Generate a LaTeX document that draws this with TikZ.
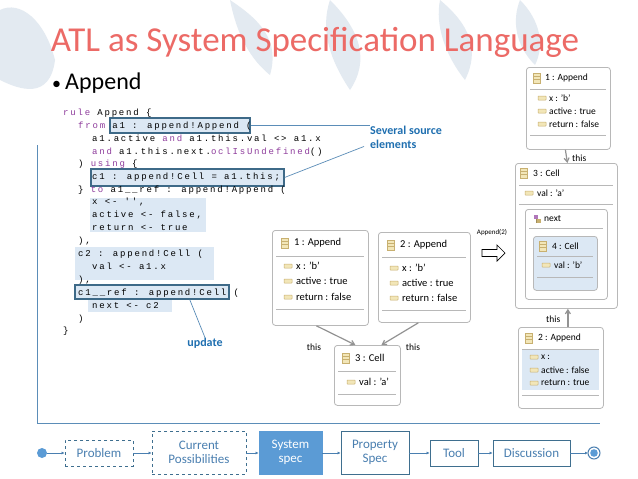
\documentclass[tikz,border=0pt]{standalone}
\usepackage{fontspec}
\setmainfont{Carlito}
\newfontfamily\codefont[LetterSpace=20]{Liberation Mono}
\usetikzlibrary{arrows.meta}
\definecolor{titlered}{HTML}{EC6A66}
\definecolor{hl}{HTML}{DCE8F4}
\definecolor{hlbox}{HTML}{3E6A88}
\definecolor{callout}{HTML}{1F6FB0}
\definecolor{kw}{HTML}{8E3C9C}
\definecolor{frameblue}{HTML}{5B8DB8}
\definecolor{navtext}{HTML}{4A7FB0}
\definecolor{navborder}{HTML}{3F6F8F}
\definecolor{navfill}{HTML}{5B9BD5}
\definecolor{objgray}{HTML}{B8B8B8}
\definecolor{icontan}{HTML}{C8B070}
\definecolor{icontanf}{HTML}{F2E6B8}
\definecolor{deco}{HTML}{E3EAF1}
\newcommand\kwd[1]{\textcolor{kw}{#1}}
\newcommand\clsicon[2]{\draw[icontan,fill=icontanf,line width=0.6pt] (#1-3.5,#2-5) rectangle (#1+3.5,#2+5); \draw[icontan,line width=0.5pt] (#1-3.5,#2-1.7) -- (#1+3.5,#2-1.7) (#1-3.5,#2+1.7) -- (#1+3.5,#2+1.7);}
\newcommand\atticon[2]{\draw[icontan,fill=icontanf,line width=0.5pt,rounded corners=0.5pt] (#1-4,#2-2) rectangle (#1+4,#2+2);}
\begin{document}
\begin{tikzpicture}[x=1pt,y=-1pt,
  objbox/.style={draw=objgray,line width=0.8pt,rounded corners=3pt,anchor=north west,inner sep=0pt},
  objtxt/.style={anchor=west,font=\fontsize{10.5}{11}\selectfont,inner sep=0pt},
  smtxt/.style={anchor=west,font=\fontsize{9.5}{10}\selectfont,inner sep=0pt},
  codeline/.style={anchor=base west,inner sep=0pt,font=\codefont\fontsize{9}{10}\selectfont},
  navbox/.style={draw=navborder,line width=0.8pt,text=navtext,align=center,font=\fontsize{13}{14}\selectfont,inner sep=0pt},
  navarrow/.style={-{Latex[length=3pt,width=3pt]},navtext,line width=0.8pt},
  objedge/.style={draw=objgray!80!black,line width=1.2pt,-{Straight Barb[length=4pt,width=5pt]}},
  sep/.style={draw=objgray,line width=0.6pt}]
\useasboundingbox (0,0) rectangle (638,479);
\fill[white] (0,0) rectangle (638,479);
% faint decorations
\fill[deco] (0,10) .. controls (20,0) and (45,20) .. (55,60) .. controls (50,100) and (20,90) .. (0,80) -- cycle;
\fill[deco] (230,0) .. controls (260,20) and (280,40) .. (270,75) .. controls (245,55) and (235,25) .. (230,0) -- cycle;
\fill[deco] (330,0) .. controls (360,30) and (370,60) .. (350,90) .. controls (330,60) and (320,30) .. (330,0) -- cycle;
\fill[deco] (440,0) .. controls (470,25) and (480,50) .. (465,80) .. controls (445,55) and (435,25) .. (440,0) -- cycle;
\fill[deco] (520,0) .. controls (540,20) and (545,45) .. (535,65) .. controls (515,45) and (512,20) .. (520,0) -- cycle;
% title
\node[text=titlered,font=\fontsize{35}{38}\selectfont,inner sep=0pt] (title) at (315,42) {ATL as System Specification Language};
\node[anchor=west,font=\fontsize{24}{28}\selectfont,inner sep=0pt] (bullet) at (52,83) {\fontsize{18}{20}\selectfont\textbullet\ \fontsize{24}{28}\selectfont Append};
% frame lines
\draw[frameblue,line width=0.8pt] (37,145) -- (37,423) -- (600,423);
% highlights
\fill[hl] (109,117) rectangle (249,132);
\fill[hl] (90,168) rectangle (283,185);
\fill[hl] (90,198) rectangle (206,232);
\fill[hl] (75,247) rectangle (214,280);
\fill[hl] (74,284) rectangle (228,298);
\fill[hl] (88,298) rectangle (172,312);
\node[draw=hlbox,line width=1.8pt,minimum width=140pt,minimum height=15pt,anchor=north west,inner sep=0pt] (hfrom) at (109,117) {};
\node[draw=hlbox,line width=1.8pt,minimum width=193pt,minimum height=17pt,anchor=north west,inner sep=0pt] (husing) at (90,168) {};
\node[draw=hlbox,line width=1.8pt,minimum width=154pt,minimum height=14pt,anchor=north west,inner sep=0pt] (href) at (74,284) {};
% code
\node[codeline] (l1) at (63,115) {\kwd{rule} Append \{};
\node[codeline] (l2) at (78,128) {\kwd{from} a1 : append!Append (};
\node[codeline] (l3) at (92,141) {a1.active \kwd{and} a1.this.val <> a1.x};
\node[codeline] (l4) at (92,154) {\kwd{and} a1.this.next.\kwd{oclIsUndefined}()};
\node[codeline] (l5) at (78,166) {) \kwd{using} \{};
\node[codeline] (l6) at (92,179) {c1 : append!Cell = a1.this;};
\node[codeline] (l7) at (78,192) {\} \kwd{to} a1\_\_ref : append!Append (};
\node[codeline] (l8) at (92,204) {x <- '{}',};
\node[codeline] (l9) at (92,217) {active <- false,};
\node[codeline] (l10) at (92,230) {return <- true};
\node[codeline] (l11) at (78,243) {),};
\node[codeline] (l12) at (78,256) {c2 : append!Cell (};
\node[codeline] (l13) at (92,269) {val <- a1.x};
\node[codeline] (l14) at (78,282) {),};
\node[codeline] (l15) at (78,295) {c1\_\_ref : append!Cell (};
\node[codeline] (l16) at (92,308) {next <- c2};
\node[codeline] (l17) at (78,321) {)};
\node[codeline] (l18) at (63,333) {\}};
% callouts
\node[text=callout,font=\bfseries\fontsize{12}{14}\selectfont,align=left,anchor=west,inner sep=0pt] (several) at (370,137) {Several source\\elements};
\draw[frameblue,line width=0.7pt] (hfrom.east) -- (several.west |- hfrom.east);
\draw[frameblue,line width=0.7pt] (husing.east) -- ([xshift=-6pt,yshift=2pt]several.south west);
\node[text=callout,font=\bfseries\fontsize{12}{14}\selectfont,inner sep=0pt] (update) at (205,343) {update};
\draw[frameblue,line width=0.7pt] ([xshift=-40pt]href.south east) -- (update.north);
% object box 1 : Append (left)
\node[objbox,minimum width=96pt,minimum height=95pt] (a1) at (272,230) {};
\clsicon{285}{243}
\node[objtxt] at (294,243) {1 : Append};
\draw[sep] (276,256) -- (364,256);
\atticon{288}{266} \node[objtxt] at (296,266) {x : 'b'};
\atticon{288}{281} \node[objtxt] at (296,281) {active : true};
\atticon{288}{297} \node[objtxt] at (296,297) {return : false};
\draw[sep] (276,309) -- (364,309);
% 2 : Append (left)
\node[objbox,minimum width=92pt,minimum height=90pt] (a2) at (378,232) {};
\clsicon{391}{245}
\node[objtxt] at (400,245) {2 : Append};
\draw[sep] (382,257) -- (466,257);
\atticon{394}{268} \node[objtxt] at (402,268) {x : 'b'};
\atticon{394}{283} \node[objtxt] at (402,283) {active : true};
\atticon{394}{298} \node[objtxt] at (402,298) {return : false};
\draw[sep] (382,310) -- (466,310);
% 3 : Cell (left)
\node[objbox,minimum width=66pt,minimum height=60pt] (c3) at (334,345) {};
\clsicon{346}{358}
\node[objtxt] at (355,358) {3 : Cell};
\draw[sep] (338,371) -- (396,371);
\atticon{351}{382} \node[objtxt] at (359,382) {val : 'a'};
\draw[sep] (338,394) -- (396,394);
\draw[objedge] ([xshift=-4pt]a1.south) -- ([xshift=-12pt]c3.north);
\draw[objedge] ([xshift=-6pt]a2.south) -- ([xshift=14pt]c3.north);
\node[font=\fontsize{9.5}{10}\selectfont] (t1) at (314,347) {this};
\node[font=\fontsize{9.5}{10}\selectfont] (t2) at (413,347) {this};
% Append(2) arrow
\node[font=\fontsize{7}{8}\selectfont,inner sep=0pt] (app2) at (492,233) {Append(2)};
\draw[black,line width=0.7pt,fill=white,line join=miter] (482,249.5) -- (497,249.5) -- (497,245) -- (505,253) -- (497,261) -- (497,256.5) -- (482,256.5) -- cycle;
% right column: 1 : Append
\node[objbox,minimum width=84pt,minimum height=82pt] (r1) at (526,67) {};
\clsicon{537}{78}
\node[smtxt] at (545,78) {1 : Append};
\draw[sep] (530,89) -- (606,89);
\atticon{542}{98} \node[smtxt] at (549,98) {x : 'b'};
\atticon{542}{111} \node[smtxt] at (549,111) {active : true};
\atticon{542}{124} \node[smtxt] at (549,124) {return : false};
\draw[sep] (530,135) -- (606,135);
% 3 : Cell right
\node[objbox,minimum width=102pt,minimum height=145pt] (r3) at (515,163) {};
\clsicon{524}{173}
\node[smtxt] at (533,173) {3 : Cell};
\draw[sep] (519,185) -- (613,185);
\atticon{529}{193} \node[smtxt] at (537,193) {val : 'a'};
\draw[sep] (519,204) -- (613,204);
\node[objbox,minimum width=82pt,minimum height=90pt] (rnext) at (525,209) {};
\fill[kw!70] (534,215) rectangle (538,219);
\fill[icontan] (537,219) rectangle (541,223);
\draw[icontan!80!black,line width=0.3pt] (536,219) -- (536,222) -- (537,222);
\node[smtxt] at (544,219) {next};
\draw[sep] (529,228) -- (603,228);
\node[objbox,fill=hl,minimum width=64pt,minimum height=54pt] (r4) at (533,236) {};
\clsicon{543}{246}
\node[smtxt] at (552,246) {4 : Cell};
\draw[sep] (537,256) -- (593,256);
\atticon{546}{265} \node[smtxt] at (554,265) {val : 'b'};
\draw[sep] (537,277) -- (593,277);
% 2 : Append right
\node[objbox,minimum width=85pt,minimum height=81pt] (r2) at (518,327) {};
\fill[hl] (522,350) rectangle (599,390);
\clsicon{529}{338}
\node[smtxt] at (538,338) {2 : Append};
\draw[sep] (522,349) -- (599,349);
\atticon{534}{357} \node[smtxt] at (541,357) {x :};
\atticon{534}{370} \node[smtxt] at (541,370) {active : false};
\atticon{534}{383} \node[smtxt] at (541,383) {return : true};
\draw[sep] (522,395) -- (599,395);
\draw[objedge] ([xshift=-3pt]r1.south) -- ([xshift=-1pt]r1.south |- r3.north);
\draw[objedge] ([xshift=7pt]r2.north) -- ([xshift=7pt]r2.north |- r3.south);
\node[smtxt] (t3) at (572,158) {this};
\node[smtxt] (t4) at (546,319) {this};
% navigation
\fill[navfill] (42,453) circle (5pt);
\coordinate (startdot) at (47,453);
\node[navbox,dashed,minimum width=68pt,minimum height=26pt] (nprob) at (99,453) {Problem};
\node[navbox,dashed,minimum width=94pt,minimum height=43pt] (ncur) at (199,452.5) {Current\\Possibilities};
\node[navbox,draw=navfill,fill=navfill,text=white,minimum width=63pt,minimum height=43pt] (nsys) at (290.5,452.5) {System\\spec};
\node[navbox,minimum width=68pt,minimum height=43pt] (nprop) at (375,452.5) {Property\\Spec};
\node[navbox,minimum width=48pt,minimum height=26pt] (ntool) at (454,453) {Tool};
\node[navbox,minimum width=77pt,minimum height=26pt] (ndisc) at (531.5,453) {Discussion};
\draw[navtext,line width=1pt,fill=white] (594,453) circle (6pt);
\fill[navfill] (594,453) circle (3.8pt);
\coordinate (enddot) at (588,453);
\draw[navarrow] (startdot) -- (nprob);
\draw[navarrow] (nprob) -- (nprob -| ncur.west);
\draw[navarrow] (ncur.east |- nprob) -- (nsys.west |- nprob);
\draw[navarrow] (nsys.east |- nprob) -- (nprop.west |- nprob);
\draw[navarrow] (nprop.east |- nprob) -- (ntool);
\draw[navarrow] (ntool) -- (ndisc);
\draw[navarrow] (ndisc) -- (enddot);
\end{tikzpicture}
\end{document}
